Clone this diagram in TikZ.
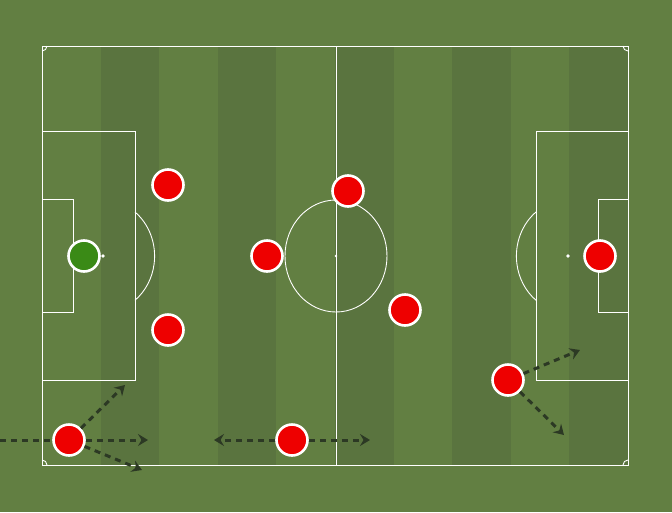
\documentclass[tikz,border=0pt]{standalone}
\usepackage{tikz}
\usetikzlibrary{arrows.meta}
\definecolor{grass}{HTML}{627F42}
\definecolor{grassdark}{HTML}{5A743F}
\definecolor{shirtred}{HTML}{EE0000}
\definecolor{keepergreen}{HTML}{3A8A16}
\definecolor{runcol}{HTML}{2C3924}
\tikzset{
	player/.style={circle, draw=white, line width=2.6pt, fill=shirtred, minimum size=31pt, inner sep=0pt},
	keeper/.style={player, fill=keepergreen},
	runline/.style={runcol, line width=3pt, dash pattern=on 6pt off 5pt},
	runarrow/.style={runline, -{Stealth[length=10pt,width=12pt,inset=3.5pt]}},
	pitchline/.style={white, line width=0.9pt}
}
\begin{document}
\begin{tikzpicture}[x=1pt,y=-1pt]
			%%%%% START %%%%%
			
			\fill[grass] (0,0) rectangle (672,512);
			\useasboundingbox (0,0) rectangle (672,512);
			
			\foreach \i in {1,3,5,7,9}
				\fill[grassdark] ({42+\i*58.6},46) rectangle ({42+(\i+1)*58.6},465);
			
			\draw[pitchline] (42,46) rectangle (628,465);
			\draw[pitchline] (336,46) -- (336,465);
			\draw[pitchline] (336,256) ellipse (51 and 56);
			\fill[white] (336,256) circle (1.3);
			
			\draw[pitchline] (42,131) rectangle (135,380);
			\draw[pitchline] (42,199) rectangle (73,312);
			\fill[white] (103,256) circle (1.8);
			\draw[pitchline] (135,212) arc (-52:52:51 and 56);
			
			\draw[pitchline] (628,131) rectangle (536,380);
			\draw[pitchline] (628,199) rectangle (598,312);
			\fill[white] (568,256) circle (1.8);
			\draw[pitchline] (536,212) arc (-128:-232:51 and 56);
			
			\draw[pitchline] (42,51) arc (90:0:5);
			\draw[pitchline] (623,46) arc (180:90:5);
			\draw[pitchline] (47,465) arc (0:-90:5);
			\draw[pitchline] (628,460) arc (270:180:5);
			
			\node[keeper] (gk) at (84,256) {};
			\node[player] (lcb) at (168,185) {};
			\node[player] (rcb) at (168,330) {};
			\node[player] (dm) at (267,256) {};
			\node[player] (cm) at (348,191) {};
			\node[player] (am) at (405,310) {};
			\node[player] (st) at (600,256) {};
			\node[player] (rw) at (508,380) {};
			\node[player] (lb) at (69,440) {};
			\node[player] (lm) at (292,440) {};
			
			\coordinate (lbin) at (0,440);
			\coordinate (lbup) at (125,385);
			\coordinate (lbfw) at (148,440);
			\coordinate (lbdn) at (142,470);
			\coordinate (lmbk) at (214,440);
			\coordinate (lmfw) at (370,440);
			\coordinate (rwup) at (580,350);
			\coordinate (rwdn) at (564,435);
			
			\draw[runline] (lbin) -- (lb);
			\draw[runarrow] (lb) -- (lbup);
			\draw[runarrow] (lb) -- (lbfw);
			\draw[runarrow] (lb) -- (lbdn);
			\draw[runarrow] (lm) -- (lmbk);
			\draw[runarrow] (lm) -- (lmfw);
			\draw[runarrow] (rw) -- (rwup);
			\draw[runarrow] (rw) -- (rwdn);
			
			%%%%% END %%%%%
\end{tikzpicture}
\end{document}
